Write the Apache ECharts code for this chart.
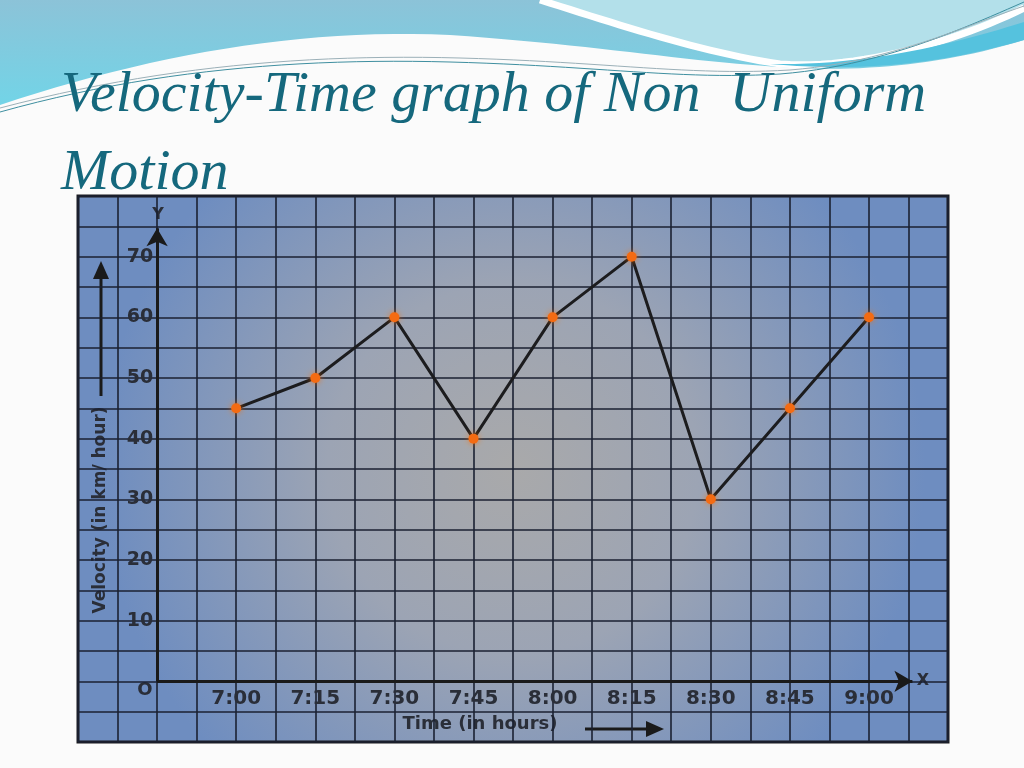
<!DOCTYPE html>
<html>
<head>
<meta charset="utf-8">
<script src="https://cdn.jsdelivr.net/npm/echarts@6/dist/echarts.min.js"></script>
<style>
html,body{margin:0;padding:0;background:#fbfbfb;}
#chart{width:1024px;height:768px;}
</style>
</head>
<body>
<div id="chart"></div>
<script>
// ---- data ----
var titleLines = ['Velocity-Time graph of Non  Uniform', 'Motion'];
var categories = ['7:00', '7:15', '7:30', '7:45', '8:00', '8:15', '8:30', '8:45', '9:00'];
var velocity = [45, 50, 60, 40, 60, 70, 30, 45, 60];
var yTickLabels = [10, 20, 30, 40, 50, 60, 70];
var xAxisTitle = 'Time (in hours)';
var yAxisTitle = 'Velocity (in km/ hour)';

var chart = echarts.init(document.getElementById('chart'), null, {renderer: 'canvas'});

var labelFont = {fontFamily: 'DejaVu Sans', fontWeight: 'bold', color: '#2a2e38'};

// sample a chain of cubic bezier segments into points (decorative slide swoosh)
function bez(start, segs) {
  var pts = [start.slice()];
  var p0 = start;
  segs.forEach(function (s) {
    for (var i = 1; i <= 24; i++) {
      var t = i / 24, u = 1 - t;
      pts.push([
        u*u*u*p0[0] + 3*u*u*t*s[0] + 3*u*t*t*s[2] + t*t*t*s[4],
        u*u*u*p0[1] + 3*u*u*t*s[1] + 3*u*t*t*s[3] + t*t*t*s[5]
      ]);
    }
    p0 = [s[4], s[5]];
  });
  return pts;
}

var waveA = [[0,0],[1024,0]].concat(bez([1024,40], [[960,60,880,72,800,68],[700,64,600,45,450,35],[300,28,150,55,0,105]]));
var waveBedge = bez([540,0], [[620,25,700,52,780,64],[860,70,960,40,1024,8]]);
var waveB = waveBedge.concat([[1024,0]]);
var waveC = bez([770,64], [[870,66,960,42,1024,22]]).concat(bez([1024,40], [[960,58,880,74,770,64]]));
var thin1 = bez([0,112], [[150,70,300,58,450,62],[600,66,680,80,780,74],[880,66,960,30,1024,2]]);
var thin2 = bez([0,108], [[160,66,310,54,460,58],[610,62,690,76,790,70],[890,62,965,26,1024,6]]);

var option = {
  backgroundColor: '#fbfbfb',
  animation: false,
  title: {
    text: titleLines.join('\n'),
    left: 56, top: 52,
    textStyle: {
      fontFamily: 'Liberation Serif', fontStyle: 'italic', fontWeight: 'normal',
      fontSize: 58, lineHeight: 78, color: '#15687d'
    }
  },
  graphic: {
    elements: [
      { type: 'polygon', z: -100, silent: true, shape: { points: waveA },
        style: { fill: {type: 'linear', x: 0, y: 0, x2: 0, y2: 1, colorStops: [
          {offset: 0, color: '#8cc3d8'}, {offset: 1, color: '#72d4e7'}]} } },
      { type: 'polygon', z: -99, silent: true, shape: { points: waveB },
        style: { fill: '#b3e0ea' } },
      { type: 'polyline', z: -99, silent: true, shape: { points: waveBedge },
        style: { fill: null, stroke: '#ffffff', lineWidth: 7 } },
      { type: 'polygon', z: -98, silent: true, shape: { points: waveC },
        style: { fill: '#55c2de' } },
      { type: 'polyline', z: -97, silent: true, shape: { points: thin1 },
        style: { fill: null, stroke: '#3f8fa0', lineWidth: 1 } },
      { type: 'polyline', z: -97, silent: true, shape: { points: thin2 },
        style: { fill: null, stroke: '#9bb0b8', lineWidth: 1 } },
      // axis captions
      { type: 'text', x: 145, y: 690, silent: true,
        style: { text: 'O', font: 'bold 18px "DejaVu Sans"', fill: '#2a2e38', textAlign: 'center', textVerticalAlign: 'middle' } },
      { type: 'text', x: 923, y: 681, silent: true,
        style: { text: 'X', font: 'bold 16px "DejaVu Sans"', fill: '#2a2e38', textAlign: 'center', textVerticalAlign: 'middle' } },
      { type: 'text', x: 158, y: 215, silent: true,
        style: { text: 'Y', font: 'bold 16px "DejaVu Sans"', fill: '#2a2e38', textAlign: 'center', textVerticalAlign: 'middle' } },
      { type: 'text', x: 480, y: 724, silent: true,
        style: { text: xAxisTitle, font: 'bold 18px "DejaVu Sans"', fill: '#2a2e38', textAlign: 'center', textVerticalAlign: 'middle' } },
      { type: 'line', silent: true, shape: {x1: 585, y1: 729, x2: 650, y2: 729},
        style: { stroke: '#1a1a1a', lineWidth: 3 } },
      { type: 'polygon', silent: true, shape: {points: [[664, 729], [646, 721], [646, 737]]},
        style: { fill: '#1a1a1a' } },
      { type: 'text', x: 101, y: 510, rotation: Math.PI / 2, silent: true,
        style: { text: yAxisTitle, font: 'bold 17px "DejaVu Sans"', fill: '#2a2e38', textAlign: 'center', textVerticalAlign: 'middle' } },
      { type: 'line', silent: true, shape: {x1: 101, y1: 396, x2: 101, y2: 276},
        style: { stroke: '#1a1a1a', lineWidth: 3 } },
      { type: 'polygon', silent: true, shape: {points: [[101, 261], [93, 279], [109, 279]]},
        style: { fill: '#1a1a1a' } }
    ]
  },
  grid: [
    { // background squared paper
      left: 78, top: 196, width: 870, height: 546,
      show: true,
      backgroundColor: {type: 'radial', x: 0.5, y: 0.5, r: 0.75, colorStops: [
        {offset: 0, color: '#a9a9aa'},
        {offset: 0.45, color: '#9ca4b4'},
        {offset: 1, color: '#6e8dc0'}]},
      borderColor: '#1b1b1e', borderWidth: 3
    },
    { // data area
      left: 236.2, top: 196, width: 632.8, height: 485.3
    }
  ],
  xAxis: [
    { type: 'value', gridIndex: 0, min: -2, max: 20, interval: 1,
      axisLine: {show: false}, axisTick: {show: false}, axisLabel: {show: false},
      splitLine: {show: true, lineStyle: {color: '#1b2132', width: 1.6}} },
    { type: 'category', gridIndex: 1, data: categories, boundaryGap: false,
      axisLine: {show: false}, axisTick: {show: false}, splitLine: {show: false},
      axisLabel: Object.assign({fontSize: 20, margin: 7}, labelFont) }
  ],
  yAxis: [
    { type: 'value', gridIndex: 0, min: -10, max: 80, interval: 5,
      position: 'left', offset: -79.1,
      axisLine: {show: false, onZero: false},
      axisTick: {show: false},
      axisLabel: Object.assign({fontSize: 19, margin: 4,
        formatter: function (v) { return yTickLabels.indexOf(v) >= 0 ? String(v) : ''; }}, labelFont),
      splitLine: {show: true, lineStyle: {color: '#1b2132', width: 1.6}} },
    { type: 'value', gridIndex: 1, min: 0, max: 80, show: false }
  ],
  series: [
    { type: 'line', xAxisIndex: 0, yAxisIndex: 0, data: [], silent: true,
      markLine: {
        silent: true, symbol: ['none', 'arrow'], symbolSize: [16, 18],
        label: {show: false},
        lineStyle: {color: '#1a1a1a', width: 3, type: 'solid'},
        data: [
          [{coord: [0, 0]}, {coord: [19.1, 0]}],
          [{coord: [0, 0]}, {coord: [0, 74.7]}]
        ]
      } },
    { type: 'line', xAxisIndex: 1, yAxisIndex: 1, data: velocity,
      symbol: 'circle', symbolSize: 10, showSymbol: true,
      lineStyle: {color: '#1c1c1e', width: 3},
      itemStyle: {color: '#f46b12', shadowBlur: 6, shadowColor: 'rgba(255,110,0,0.7)'},
      z: 5 }
  ]
};
chart.setOption(option);
</script>
</body>
</html>
